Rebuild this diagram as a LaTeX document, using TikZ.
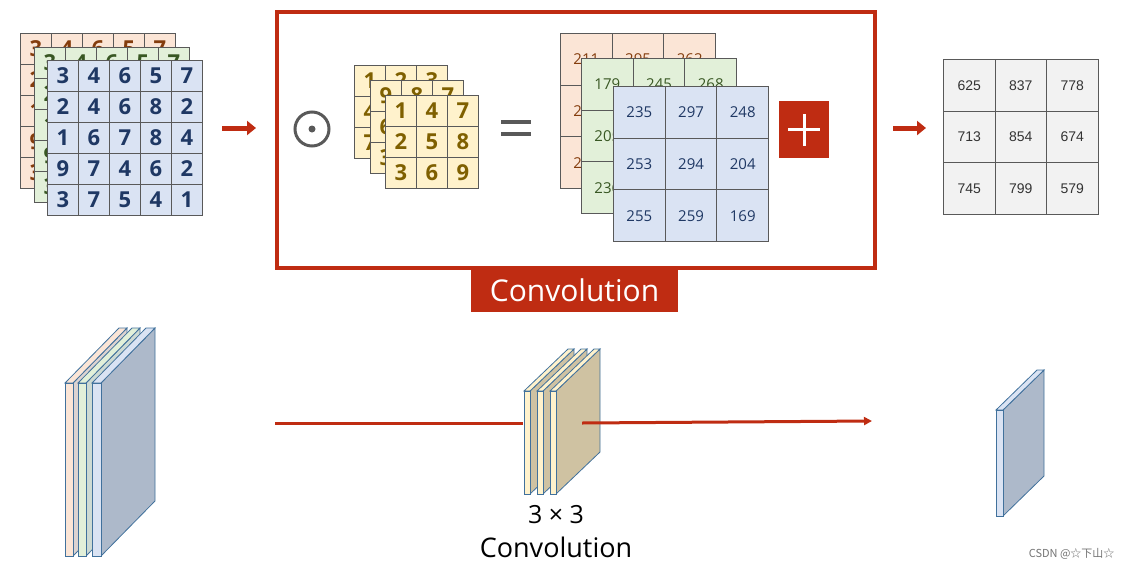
\documentclass[tikz,border=0pt]{standalone}
\usetikzlibrary{arrows.meta}
\usepackage{fontspec}
\setmainfont{Open Sans}
\newfontfamily\carl{Carlito}
\newfontfamily\arl{Liberation Sans}
\newfontfamily\cjk{Noto Sans CJK SC}
\definecolor{ofill}{HTML}{FBE5D6}\definecolor{otext}{HTML}{843C0C}
\definecolor{gfill}{HTML}{E2F0D9}\definecolor{gtext}{HTML}{385723}
\definecolor{bfill}{HTML}{DAE3F3}\definecolor{btext}{HTML}{1F3864}
\definecolor{yfill}{HTML}{FFF2CC}\definecolor{ytext}{HTML}{7F6000}
\definecolor{myred}{HTML}{BF2C12}\definecolor{gline}{HTML}{595959}
\definecolor{sblue}{HTML}{ADB9CA}\definecolor{stan}{HTML}{CFC2A2}
\definecolor{edge}{HTML}{41719C}
% #1 x, #2 y, #3 cell, #4 fill, #5 text colour, #6 font, #7 rows, #8 name prefix
\newcommand\mygrid[8]{%
  \foreach \row [count=\r] in {#7} {%
    \foreach \v [count=\c] in \row {%
      \node[draw=gline, line width=1pt, fill=#4, text=#5, font=#6, minimum size=#3pt, inner sep=0pt, anchor=north west]
        (#8\r\c) at (#1+\c*#3-#3, #2+\r*#3-#3) {\v};
    }}}
% slab: #1 x0, #2 ytop front, #3 ybottom, #4 w, #5 dx, #6 dy, #7 front fill, #8 side fill
\newcommand\slab[8]{%
  \draw[edge, line width=0.8pt, fill=#8] (#1+#4,#2) -- ++(#5,-#6) -- (#1+#4+#5,#3-#6) -- (#1+#4,#3) -- cycle;
  \draw[edge, line width=0.8pt, fill=#7] (#1,#2) -- ++(#5,-#6) -- ++(#4,0) -- (#1+#4,#2) -- cycle;
  \draw[edge, line width=0.8pt, fill=#7] (#1,#2) rectangle (#1+#4,#3);}
\begin{document}
\begin{tikzpicture}[x=1pt,y=-1pt,
  redarrow/.style={myred, line width=5pt, -{Triangle[length=9pt,width=14pt]}},
  redline/.style={myred, line width=3pt}]
\useasboundingbox (0,0) rectangle (1131,570);
% input stacks
\mygrid{20}{33}{31}{ofill}{otext}{\bfseries\fontsize{22}{22}\selectfont}{{3,4,6,5,7},{2,4,6,8,2},{1,6,7,8,4},{9,7,4,6,2},{3,7,5,4,1}}{A}
\mygrid{34}{47}{31}{gfill}{gtext}{\bfseries\fontsize{22}{22}\selectfont}{{3,4,6,5,7},{2,4,6,8,2},{1,6,7,8,4},{9,7,4,6,2},{3,7,5,4,1}}{B}
\mygrid{47}{60}{31}{bfill}{btext}{\bfseries\fontsize{22}{22}\selectfont}{{3,4,6,5,7},{2,4,6,8,2},{1,6,7,8,4},{9,7,4,6,2},{3,7,5,4,1}}{C}
\coordinate (a1s) at (222,128); \coordinate (a1e) at (256,128);
\draw[redarrow] (a1s) -- (a1e);
% red frame
\node[draw=myred, line width=4pt, minimum width=598pt, minimum height=256pt, anchor=north west, inner sep=0pt] (frame) at (275,10) {};
\node[fill=myred, text=white, font=\fontsize{30}{30}\selectfont, minimum width=207pt, minimum height=44pt, inner sep=0pt] (convlab) at (574.5,290) {Convolution};
% odot
\node[draw=gline, circle, line width=3pt, minimum size=34pt, inner sep=0pt] (odot) at (312,129) {};
\fill[gline] (odot.center) circle (3.5pt);
% kernels
\mygrid{354}{65}{31}{yfill}{ytext}{\bfseries\fontsize{22}{22}\selectfont}{{1,2,3},{4,5,6},{7,8,9}}{K}
\mygrid{370}{80}{31}{yfill}{ytext}{\bfseries\fontsize{22}{22}\selectfont}{{9,8,7},{6,5,4},{3,2,1}}{L}
\mygrid{385}{95}{31}{yfill}{ytext}{\bfseries\fontsize{22}{22}\selectfont}{{1,4,7},{2,5,8},{3,6,9}}{M}
\coordinate (eq) at (516,128);
\draw[gline, line width=3.5pt] ([xshift=-15pt,yshift=-6pt]eq) -- ([xshift=15pt,yshift=-6pt]eq)
  ([xshift=-15pt,yshift=6pt]eq) -- ([xshift=15pt,yshift=6pt]eq);
% results
\mygrid{560}{33}{51.7}{ofill}{otext}{\fontsize{15}{15}\selectfont}{{211,295,262},{213,279,239},{227,228,257}}{P}
\mygrid{581}{58}{51.7}{gfill}{gtext}{\fontsize{15}{15}\selectfont}{{179,245,268},{205,263,251},{236,220,214}}{Q}
\mygrid{613}{86}{51.7}{bfill}{btext}{\fontsize{15}{15}\selectfont}{{235,297,248},{253,294,204},{255,259,169}}{R}
\node[fill=myred, minimum width=50pt, minimum height=57pt, inner sep=0pt] (plus) at (804,129.5) {};
\draw[white, line width=3pt] ([xshift=-16pt]plus.center) -- ([xshift=16pt]plus.center)
  ([yshift=-16pt]plus.center) -- ([yshift=16pt]plus.center);
\coordinate (a2s) at (893,128); \coordinate (a2e) at (926,128);
\draw[redarrow] (a2s) -- (a2e);
% output
\mygrid{943}{59}{51.5}{black!5}{black!80}{\arl\fontsize{14}{14}\selectfont}{{625,837,778},{713,854,674},{745,799,579}}{S}
% bottom slabs
\slab{65}{383}{556}{8}{54}{55}{ofill}{ofill!60!sblue}
\slab{78}{383}{556}{8}{54}{55}{gfill}{gfill!60!sblue}
\slab{92}{383}{556}{9}{54}{55}{bfill}{sblue}
\coordinate (l1s) at (275,423); \coordinate (l1e) at (523,423);
\draw[redline] (l1s) -- (l1e);
\slab{524}{391}{494}{6}{44}{42}{yfill}{stan}
\slab{537}{391}{494}{6}{44}{42}{yfill}{stan}
\slab{550}{391}{494}{6}{44}{42}{yfill}{stan}
\coordinate (l2s) at (582,423); \coordinate (l2e) at (872,421);
\draw[redline, -{Triangle[length=8pt,width=8pt]}] (l2s) -- (l2e);
\slab{996}{410}{516}{7}{41}{40}{bfill}{sblue}
\node[font=\fontsize{25}{25}\selectfont] (k33) at (556,515) {3 × 3};
\node[font=\fontsize{27}{27}\selectfont] (kconv) at (556,547) {Convolution};
\node[font=\cjk\fontsize{11}{11}\selectfont, text=black!55, anchor=east] (wm) at (1118,554) {CSDN @☆下山☆};
\end{tikzpicture}
\end{document}
